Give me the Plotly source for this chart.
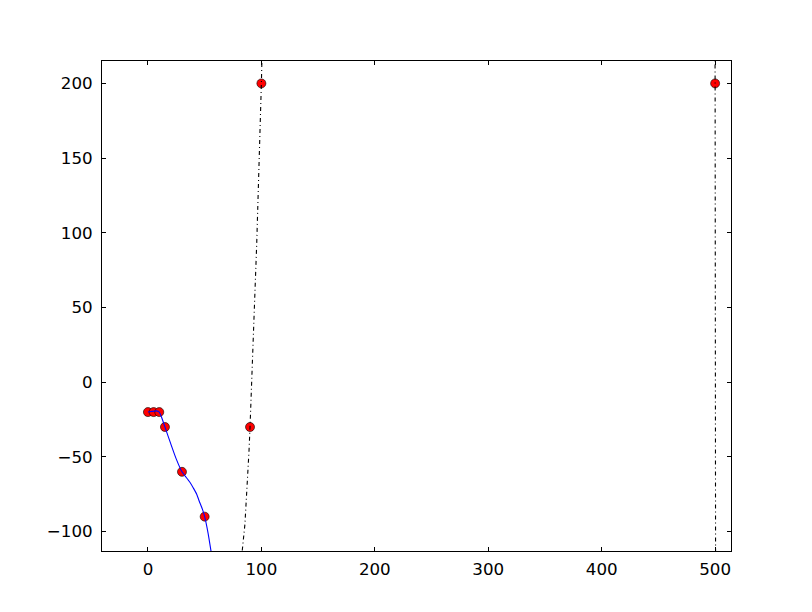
import plotly.graph_objects as go

# data points (red markers)
pt_x = [0, 5, 10, 15, 30, 50, 90, 100, 500]
pt_y = [-20, -20, -20, -30, -60, -90, -30, 200, 200]

# blue smooth curve
blue_x = [0, 2.5, 5, 7.5, 10, 12, 15, 20, 25, 30, 33, 35, 37, 40, 43, 45, 48, 50, 53, 56]
blue_y = [-20, -19.6, -19.5, -19.2, -20, -23.5, -30, -41, -51.5, -60, -63, -65, -67, -70.8, -75, -79.2, -85, -90, -101, -115]

# black dash-dot curve, two visible pieces
black_x = [82.5, 83.1, 85.5, 87.6, 89.1, 90, 92.9, 95.9, 100, 100.6, None, 499.9, 500, 500.4]
black_y = [-120, -113, -95, -70, -46, -30, 28, 93, 200, 220, None, 220, 200, -120]

x_range = [-40.5, 514]
y_range = [-113, 215]
x_ticks = [0, 100, 200, 300, 400, 500]
y_ticks = [-100, -50, 0, 50, 100, 150, 200]

fig = go.Figure()
fig.add_trace(go.Scatter(
    x=pt_x, y=pt_y, mode="markers",
    marker=dict(color="#ff0000", size=9, line=dict(color="#000000", width=0.6)),
    cliponaxis=True, showlegend=False))
fig.add_trace(go.Scatter(
    x=blue_x, y=blue_y, mode="lines", line=dict(color="#0000ff", width=1.1, shape="spline", smoothing=0.6),
    showlegend=False))
fig.add_trace(go.Scatter(
    x=black_x, y=black_y, mode="lines", connectgaps=False,
    line=dict(color="#000000", width=1.1, dash="4px,3px,1px,3px"),
    showlegend=False))

axis_common = dict(
    showgrid=False, zeroline=False, showline=True, linecolor="#000000", linewidth=1,
    mirror="ticks", ticks="inside", ticklen=4, tickwidth=1, tickcolor="#000000",
    tickfont=dict(family="DejaVu Sans", size=16.7, color="#000000"),
)
fig.update_xaxes(range=x_range, tickvals=x_ticks, ticktext=[str(v) for v in x_ticks],
                 ticklabelstandoff=3, **axis_common)
fig.update_yaxes(range=y_range, tickvals=y_ticks,
                 ticktext=[("\u2212" + str(-v)) if v < 0 else str(v) for v in y_ticks],
                 ticklabelstandoff=5, **axis_common)

fig.update_layout(
    width=796, height=596,
    margin=dict(l=94, r=73, t=53, b=53),
    paper_bgcolor="#ffffff", plot_bgcolor="#ffffff",
    showlegend=False,
)

fig.write_html("out.html")
